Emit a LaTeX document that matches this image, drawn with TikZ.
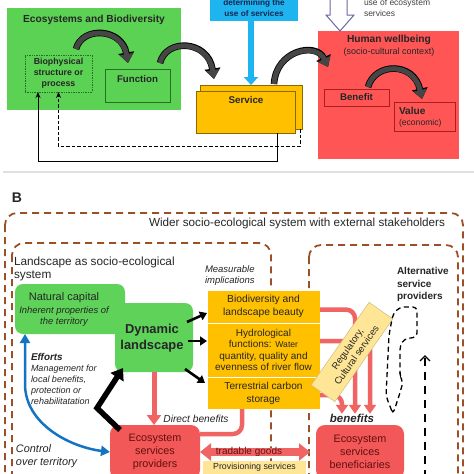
\documentclass[tikz,border=0pt]{standalone}
\usepackage{fontspec}
\setmainfont{Liberation Sans}
\usetikzlibrary{arrows.meta,calc}
\definecolor{grnA}{RGB}{92,210,84}
\definecolor{grnB}{RGB}{95,210,90}
\definecolor{dkgrn}{RGB}{40,110,40}
\definecolor{redA}{RGB}{255,85,85}
\definecolor{redB}{RGB}{242,88,88}
\definecolor{redln}{RGB}{240,100,100}
\definecolor{dkred}{RGB}{170,30,30}
\definecolor{txtred}{RGB}{100,15,15}
\definecolor{yel}{RGB}{255,192,0}
\definecolor{yelbd}{RGB}{140,105,0}
\definecolor{pale}{RGB}{255,230,150}
\definecolor{cyanA}{RGB}{30,180,240}
\definecolor{navyt}{RGB}{20,40,80}
\definecolor{bluB}{RGB}{20,115,195}
\definecolor{brn}{RGB}{155,80,40}
\definecolor{hol}{RGB}{105,105,165}
\definecolor{curv}{RGB}{70,70,70}
\newcommand\myfs[2]{\fontsize{#1}{#2}\selectfont}
\begin{document}
\begin{tikzpicture}[x=1pt,y=-1pt,
  every node/.style={inner sep=0pt, outer sep=0pt, text=black!85},
  tb/.style={font=\bfseries},
  curvarr/.style={draw=curv, line width=5pt, -{Triangle[width=13pt,length=9pt]},
     preaction={draw=black, line width=6.6pt, -{Triangle[width=15.5pt,length=10.5pt]}}},
  fb/.style={draw=black, line width=1pt, -{Stealth[length=6pt,width=5pt]}},
  frame/.style={draw=brn, line width=1.8pt, dash pattern=on 7pt off 5pt, rounded corners=12pt},
  gbox/.style={rectangle, fill=grnB, rounded corners=8pt},
  obox/.style={rectangle, fill=yel, draw=white, line width=0.8pt, align=center},
  rbox/.style={rectangle, fill=redB, rounded corners=9pt, align=center, text=txtred, font=\myfs{10.8}{13}},
  redl/.style={draw=redln, line width=4.5pt, rounded corners=9pt},
  redarr/.style={redl, -{Triangle[width=12pt,length=9pt]}},
  blk/.style={draw=black, line width=2.6pt, -{Triangle[width=9pt,length=7pt]}},
  sbox/.style={rectangle, fill=yel, draw=yelbd, line width=0.6pt},
]
\clip (0,0) rectangle (474,474);
\fill[white] (0,0) rectangle (474,474);

% ---------------- Panel A ----------------
\node[rectangle, fill=grnA, minimum width=174pt, minimum height=102pt] (eco) at (94,59) {};
\node[tb, font=\bfseries\myfs{10.2}{12}] (ecot) at (94,20) {Ecosystems and Biodiversity};
\node[rectangle, draw=dkgrn, densely dotted, line width=0.7pt, minimum width=67pt, minimum height=37pt,
      align=center, font=\bfseries\myfs{8.8}{11}] (bio) at (58.5,73.5) {Biophysical\\structure or\\process};
\node[rectangle, draw=dkgrn, line width=0.6pt, minimum width=65pt, minimum height=33pt] (func) at (137.5,85.5) {};
\node[font=\bfseries\myfs{9.7}{11}] (funct) at (137.5,79) {Function};

\node[rectangle, fill=cyanA, minimum width=88pt, minimum height=40pt] (blue) at (254,1) {};
\node[font=\bfseries\myfs{8.2}{11.5}, text=navyt, align=center] (bluet) at (254,8.3) {determining the\\use of services};

\node[sbox, minimum width=102pt, minimum height=44pt] (svcb) at (251,107) {};
\node[sbox, minimum width=99pt, minimum height=42pt] (svc) at (245.5,112) {};
\node[font=\bfseries\myfs{9.8}{11}] (svct) at (246,100) {Service};

\draw[draw=cyanA, line width=5.5pt, -{Triangle[width=14pt,length=8pt]}] (svcb.north |- blue.south) -- (svcb.north);

\node[rectangle, fill=redA, minimum width=141pt, minimum height=128pt] (hw) at (388.5,95) {};
\node[font=\bfseries\myfs{10.2}{12}] (hwt) at (389,40) {Human wellbeing};
\node[font=\myfs{9}{11}] (hws) at (389,52) {(socio-cultural context)};
\node[rectangle, draw=dkred, line width=0.6pt, minimum width=65pt, minimum height=17pt,
      font=\bfseries\myfs{9.7}{11}] (ben1) at (356.5,97.5) {Benefit};
\node[rectangle, draw=dkred, line width=0.6pt, minimum width=61pt, minimum height=29pt] (val) at (424.5,116.5) {};
\node[anchor=west, font=\bfseries\myfs{10.1}{12}] (valt) at (399,111) {Value};
\node[anchor=west, font=\myfs{8.6}{10}] (vals) at (399,123) {(economic)};

\draw[draw=hol, fill=white, line width=1pt] (330,-5) -- (330,15) -- (326,15) -- (340,31) -- (354,15) -- (347,15) -- (347,-5) -- cycle;
\node[anchor=west, align=left, font=\myfs{8.5}{11}, text=black!75] (uset) at (364,8) {use of ecosystem\\services};

% curved arrows
\draw[curvarr] ($(bio.north east)+(-16,-6)$) .. controls +(6,-23) and +(-6,-35) .. ($(func.north)+(-9.5,-6)$);
\draw[curvarr] ($(func.north east)+(-10,-6)$) .. controls +(6,-25) and +(-6,-39) .. ($(svcb.north west)+(14,-6)$);
\draw[curvarr] ($(svcb.north)+(23,-1)$) .. controls +(2,-34) and +(-12,-25) .. ($(hw.west)+(10,-28)$);
\draw[curvarr] ($(ben1.north east)+(-21,-2)$) .. controls +(7,-25) and +(-8,-37) .. ($(val.north)+(-2.5,-3)$);

% feedback
\draw[fb] ([xshift=31.5pt]svc.south) -- ++(0,28) -| ([xshift=-20.5pt]bio.south);
\draw[fb, dash pattern=on 3.5pt off 2pt] ([xshift=-2pt]svcb.south east) -- ++(0,17) -| (bio.south);

\draw[black!12, line width=1.3pt] (3,172) -- (474,172);

% ---------------- Panel B ----------------
\node[font=\bfseries\myfs{14}{16}] (lblB) at (17,198) {B};
\draw[frame] (5,213) rectangle (463,530);
\draw[frame] (12,243) rectangle (271,530);
\draw[frame] (309,245) rectangle (458,530);
\node[font=\myfs{11.7}{13}] (widert) at (297,223.5) {Wider socio-ecological system with external stakeholders};
\node[anchor=west, align=left, font=\myfs{11.8}{13}] (landt) at (14,268.5) {Landscape as socio-ecological\\system};
\node[anchor=west, align=left, font=\itshape\myfs{9.5}{11.5}] (meas) at (205,275.5) {Measurable\\implications};

% green boxes
\node[gbox, minimum width=110pt, minimum height=50pt] (ncap) at (70,309) {};
\node[gbox, minimum width=78pt, minimum height=69pt] (dyn) at (154,337.5) {};
\node[font=\myfs{11}{13}] (ncapt) at (64,298) {Natural capital};
\node[font=\itshape\myfs{9.4}{11}, align=center] (ncapi) at (64,316.5) {Inherent properties of\\the territory};
\node[font=\bfseries\myfs{12.9}{16}, align=center] (dynt) at (152,338) {Dynamic\\landscape};

% orange boxes
\node[obox, minimum width=113pt, minimum height=33pt, font=\myfs{10.3}{13}] (bio2) at (263.5,306.5) {Biodiversity and\\landscape beauty};
\node[obox, minimum width=113pt, minimum height=54pt, font=\myfs{10}{11.3}] (hyd) at (263.5,350) {Hydrological\\functions: \myfs{8.6}{11.3}Water\\quantity, quality and\\evenness of river flow};
\node[obox, minimum width=113pt, minimum height=32pt, font=\myfs{10.1}{13}] (carb) at (263.5,393) {Terrestrial carbon\\storage};

% red boxes and labels
\node[rbox, minimum width=90pt, minimum height=54pt] (esp) at (155,452) {Ecosystem\\services\\providers};
\node[rbox, minimum width=88pt, minimum height=54pt] (esb) at (360,452) {Ecosystem\\services\\beneficiaries};
\node[font=\bfseries\itshape\myfs{11.5}{13}] (benb) at (352,418) {benefits};
\node[font=\itshape\myfs{10.2}{12}] (dirb) at (196,419) {Direct benefits};

% red connectors
\draw[redarr] ([yshift=-3pt]bio2.east) -| ([xshift=3pt]benb.north);
\draw[redarr] ([yshift=9pt]hyd.east) -| ([xshift=18pt]benb.north);
\draw[redarr] ([yshift=-2pt]carb.east) -| ([xshift=-10pt]benb.north);
\draw[redl] ([xshift=-21.5pt]carb.south) |- ([yshift=18pt]esp.east);
\draw[draw=redln, line width=5pt, -{Triangle[width=14pt,length=10pt]}] (dyn.south) -- (dyn.south |- esp.north);
\draw[draw=redln, line width=8pt, {Triangle[width=17pt,length=11pt]}-{Triangle[width=17pt,length=11pt]}, shorten >=6pt] (esp.east) -- (esb.west);
\node[font=\myfs{10}{12}, text=txtred] (trad) at (249,452) {tradable goods};
\node[rectangle, fill=pale, minimum width=103pt, minimum height=14pt, font=\myfs{8.8}{10}] (prov) at (254.5,467.5) {Provisioning services};

% banner
\node[rectangle, fill=pale, draw=yelbd!50, line width=0.4pt, minimum width=101pt, minimum height=29pt,
      rotate=55, align=center, font=\myfs{9.5}{11}] (reg) at (352,352) {Regulatory,\\Cultural services};

% black arrows
\draw[blk] ([xshift=-6pt,yshift=15.5pt]dyn.east) -- ([yshift=-6.5pt]bio2.west);
\draw[blk] ([xshift=-5pt,yshift=-3.5pt]dyn.east) -- ([yshift=9pt]hyd.west);
\draw[blk] ([xshift=-8pt,yshift=-31.5pt]dyn.east) -- ([xshift=-2pt,yshift=10pt]carb.west);

% texts
\node[font=\bfseries\itshape\myfs{9.9}{11}, anchor=west] (eff) at (31,357) {Efforts};
\node[font=\itshape\myfs{9}{11}, align=left, anchor=west] (efft) at (31,384.5) {Management for\\local benefits,\\protection or\\rehabilitatation};
\node[font=\itshape\myfs{10.9}{13}, align=left, anchor=west] (ctrl) at (16,456.5) {Control\\over territory};

% blue and black thick arrows
\draw[draw=bluB, line width=2.5pt, {Triangle[width=10pt,length=9pt]}-{Triangle[width=10pt,length=9pt]}]
  ([xshift=10pt]ncap.south west) -- ++(0,50) .. controls +(0,40) and +(-40,-5) .. (esp.west);
\draw[draw=black, line width=5.5pt, -{Triangle[width=15pt,length=11pt]}]
  ([xshift=10pt,yshift=-5pt]esp.north west) -- (97,408) -- ([xshift=8pt,yshift=4pt]dyn.south west);

% alternative providers
\node[font=\bfseries\myfs{10}{12.5}, align=left, anchor=west] (alt) at (397,284.5) {Alternative\\service\\providers};
\draw[black, line width=1.3pt, dash pattern=on 5pt off 3.5pt, rounded corners=4pt]
  (393,414) -- (386,396) -- (389,335) -- (393,314) -- (400,307) -- (417,307) -- (417,337) -- (404,339)
  -- (400,346) -- (400,376) -- (403,382) -- (399,396) -- cycle;
\coordinate (upS) at (425,478);
\coordinate (upE) at (425,355);
\draw[black, line width=1.4pt, dash pattern=on 8pt off 6pt, -{Straight Barb[length=5pt,width=10pt]}] (upS) -- (upE);
\end{tikzpicture}
\end{document}
